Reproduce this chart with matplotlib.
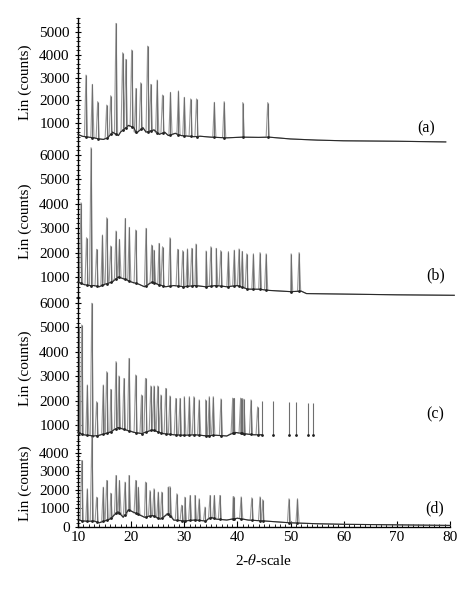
import numpy as np
import matplotlib
matplotlib.use("Agg")
import matplotlib.pyplot as plt
from matplotlib.ticker import MultipleLocator, FixedLocator

plt.rcParams['font.family'] = ['Liberation Serif', 'DejaVu Serif']
plt.rcParams['mathtext.fontset'] = 'stix'

# ---------------------------------------------------------------------------
# data (2-theta in degrees, intensity in counts)
# ---------------------------------------------------------------------------
# (a)
a_base_x = [10, 10.8, 12, 13, 14, 14.8, 15.6, 16.5, 17.6, 18.0, 19.5, 20.5, 21.0, 22.2,
            22.8, 24.3, 25.3, 26.3, 27.0, 28.3, 29.4, 30.5, 31.8, 33, 35, 38, 41, 44,
            46, 50, 55, 60, 70, 79.2]
a_base_y = [500, 420, 380, 350, 300, 280, 350, 600, 450, 600, 900, 800, 550, 800,
            600, 700, 500, 600, 450, 550, 450, 430, 400, 420, 380, 350, 380, 370,
            380, 300, 250, 220, 200, 170]
a_peak_x = [11.5, 12.7, 13.7, 15.4, 16.15, 17.15, 18.4, 19.0, 20.1, 20.9, 21.8, 23.1,
            23.7, 24.9, 25.9, 27.4, 28.9, 30.0, 31.2, 32.3, 35.65, 37.5, 41.0, 45.7]
a_peak_y = [3110, 2700, 1940, 1790, 2200, 5380, 4090, 3800, 4210, 2520, 2770, 4380,
            2700, 2890, 2230, 2350, 2410, 2130, 2060, 2060, 1910, 1940, 1900, 1900]

# (b)
b_base_x = [10, 11, 12, 13, 14, 15, 16.5, 17.5, 19, 20, 21.5, 22.5, 24, 25, 26.5, 28,
            30, 32, 34, 36, 38, 40, 42, 44, 46, 50, 52, 53, 60, 70, 80.8]
b_base_y = [800, 700, 650, 650, 600, 700, 800, 1000, 900, 800, 700, 600, 800, 700,
            600, 650, 600, 650, 600, 650, 600, 650, 500, 500, 450, 400, 420, 320,
            300, 270, 250]
b_peak_x = [10.56, 11.6, 12.45, 13.5, 14.6, 15.4, 16.15, 17.15, 17.8, 18.9, 19.65,
            20.85, 22.8, 23.85, 24.3, 25.25, 25.9, 27.3, 28.75, 29.7, 30.6, 31.4,
            32.2, 34.1, 35.0, 36.0, 36.85, 38.3, 39.4, 40.3, 40.9, 41.75, 43.0,
            44.25, 45.4, 50.1, 51.6]
b_peak_y = [4045, 2610, 6300, 2135, 2720, 3430, 2270, 2885, 2545, 3400, 3035, 2925,
            2995, 2310, 2100, 2380, 2240, 2610, 2135, 2080, 2150, 2175, 2350, 2065,
            2240, 2175, 2080, 2040, 2100, 2150, 2050, 1950, 1950, 2000, 1950, 1950,
            2000]

# (c)
c_base_x = [10, 11, 13, 14, 16, 17.5, 19, 20.5, 22, 24, 26, 28, 30, 32, 34, 36, 38,
            39.5, 41, 43, 44.5]
c_base_y = [700, 600, 550, 580, 700, 900, 800, 700, 650, 800, 650, 600, 580, 600,
            560, 580, 550, 700, 650, 600, 600]
c_peak_x = [10.2, 10.7, 11.75, 12.6, 13.5, 14.75, 15.4, 16.15, 17.15, 17.7, 18.65,
            19.6, 20.85, 21.95, 22.7, 23.7, 24.3, 25.0, 25.6, 26.5, 27.3, 28.4, 29.2,
            30.0, 30.95, 31.8, 32.8, 34.0, 34.7, 35.45, 36.9, 39.1, 39.4, 40.6, 40.9,
            41.2, 42.55, 43.8, 44.7, 46.6, 49.7, 50.95, 53.2, 54.2]
c_peak_y = [5000, 5100, 2640, 5990, 1955, 2640, 3185, 2460, 3600, 3010, 2910, 3730,
            3050, 2230, 2910, 2600, 2600, 2600, 2230, 2500, 2190, 2090, 2090, 2160,
            2160, 2160, 2030, 2030, 2160, 2160, 2070, 2100, 2090, 2100, 2080, 2060,
            2030, 1740, 1980, 1980, 1960, 1960, 1900, 1900]

# (d)
d_base_x = [10, 11, 12, 13, 14, 15, 16, 17.5, 18.5, 19.5, 21, 22.5, 24, 25.5, 27, 28,
            30, 32, 34, 35, 36, 38, 40, 42, 45, 50, 55, 60, 70, 80]
d_base_y = [350, 300, 280, 300, 200, 300, 400, 800, 500, 900, 700, 500, 600, 400, 700,
            350, 300, 350, 300, 500, 400, 350, 450, 350, 300, 200, 150, 120, 90, 60]
d_peak_x = [10.7, 11.75, 12.6, 13.5, 14.75, 15.4, 16.15, 17.15, 17.8, 18.85, 19.6,
            20.85, 21.35, 22.7, 23.55, 24.3, 25.1, 25.75, 27.0, 27.3, 28.6, 29.5, 30.1,
            31.1, 32.0, 32.8, 33.9, 34.85, 35.65, 36.7, 39.2, 39.35, 40.7, 42.7, 44.25,
            44.75, 49.7, 51.3]
d_peak_y = [3570, 2040, 4850, 1585, 2125, 2490, 1800, 2760, 2490, 2400, 2760, 2490,
            2125, 2400, 1945, 2040, 1860, 1860, 2125, 2160, 1770, 1150, 1585, 1680,
            1680, 1500, 1050, 1680, 1680, 1680, 1620, 1600, 1600, 1550, 1600, 1450,
            1500, 1500]

labels = ['(a)', '(b)', '(c)', '(d)']
yticks = [[1000, 2000, 3000, 4000, 5000],
          [1000, 2000, 3000, 4000, 5000, 6000],
          [1000, 2000, 3000, 4000, 5000, 6000],
          [0, 1000, 2000, 3000, 4000]]

panels = [(a_base_x, a_base_y, a_peak_x, a_peak_y),
          (b_base_x, b_base_y, b_peak_x, b_peak_y),
          (c_base_x, c_base_y, c_peak_x, c_peak_y),
          (d_base_x, d_base_y, d_peak_x, d_peak_y)]

# layout (figure fractions) and y ranges for each strip
rects = [(0.1646, 0.7525, 0.7848, 0.2169),
         (0.1646, 0.4966, 0.7848, 0.2559),
         (0.1646, 0.2559, 0.7848, 0.2407),
         (0.1646, 0.1076, 0.7848, 0.1483)]
ylims = [(-10, 5615), (180, 6369), (426, 6246), (0, 4730)]
label_pos = [(75.5, 750), (77.3, 1050), (77.3, 1450), (77.1, 1000)]

fig = plt.figure(figsize=(4.74, 5.90), dpi=100)

HW = 0.3  # half width of drawn peak foot, degrees
for i, (bx, by, px, py) in enumerate(panels):
    ax = fig.add_axes(rects[i])
    bx = np.asarray(bx, float)
    by = np.asarray(by, float)
    px = np.asarray(px, float)
    py = np.asarray(py, float)
    base_at_peak = np.interp(px, bx, by)

    # measured trace: baseline with the peaks on it
    tx = list(bx)
    ty = list(by)
    for x, h, b in zip(px, py, base_at_peak):
        if x > bx[-1]:
            continue
        tx += [x - HW, x, x + HW]
        ty += [b, h, b]
    order = np.argsort(tx, kind='stable')
    tx = np.asarray(tx)[order]
    ty = np.asarray(ty)[order]
    ax.plot(tx, ty, color='#9a9a9a', lw=0.8, clip_on=False, zorder=2)
    ax.plot(bx, by, color='#2a2a2a', lw=0.8, clip_on=False, zorder=3)

    # reference sticks
    ax.vlines(px, base_at_peak, py, color='#6e6e6e', lw=0.8, clip_on=False, zorder=4)
    ax.plot(px, base_at_peak, ls='none', marker='.', ms=2.0, color='#222222',
            clip_on=False, zorder=5)

    ax.set_xlim(10, 80)
    ax.set_ylim(*ylims[i])
    ax.yaxis.set_major_locator(FixedLocator(yticks[i]))
    ax.yaxis.set_minor_locator(MultipleLocator(200))
    ax.tick_params(axis='y', which='major', direction='inout', length=4, width=0.8,
                   labelsize=11, pad=4)
    ax.tick_params(axis='y', which='minor', direction='inout', length=2.5, width=0.6)
    ax.set_ylabel('Lin (counts)', fontsize=11)
    ax.yaxis.set_label_coords(-0.125, 0.5)

    for s in ['top', 'right']:
        ax.spines[s].set_visible(False)
    ax.spines['left'].set_linewidth(1.0)
    ax.patch.set_alpha(0)

    ax.text(label_pos[i][0], label_pos[i][1], labels[i], fontsize=11.5,
            ha='center', va='center')

    if i < 3:
        ax.spines['bottom'].set_visible(False)
        ax.tick_params(axis='x', which='both', bottom=False, labelbottom=False)
    else:
        ax.spines['bottom'].set_linewidth(1.0)
        ax.xaxis.set_major_locator(MultipleLocator(10))
        ax.xaxis.set_minor_locator(MultipleLocator(1))
        ax.tick_params(axis='x', which='major', direction='in', length=4, width=0.8,
                       labelsize=11, pad=3)
        ax.tick_params(axis='x', which='minor', direction='in', length=2, width=0.6)
        ax.set_xlabel('2-$\\theta$-scale', fontsize=11, labelpad=7)

fig.savefig("out.png", dpi=100)
